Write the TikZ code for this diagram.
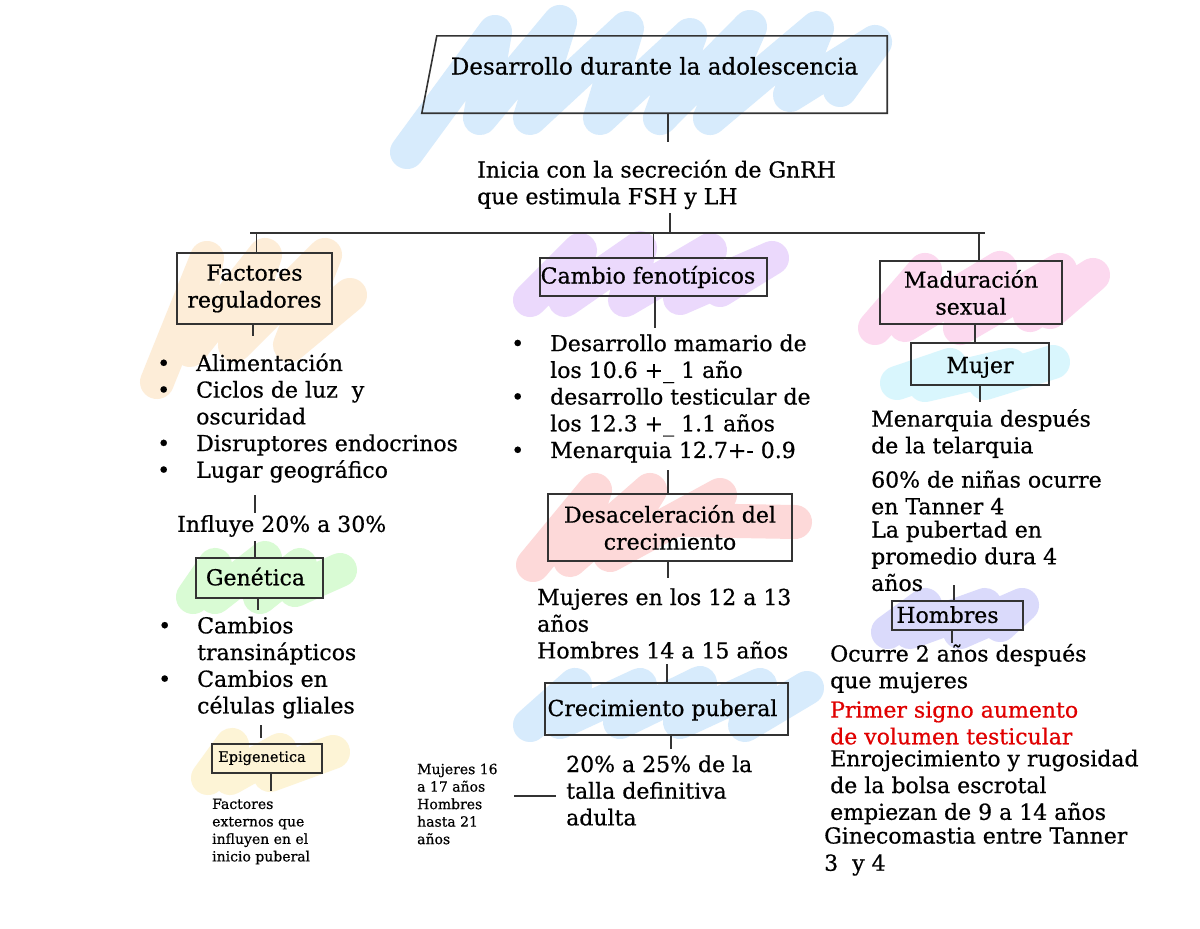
\documentclass[tikz,border=0pt]{standalone}
\usepackage{fontspec}
\setmainfont[FakeBold=0.6]{DejaVu Serif}
\usetikzlibrary{positioning}

\definecolor{azulG}{HTML}{D7EBFC}
\definecolor{naranjaG}{HTML}{FDEDD8}
\definecolor{moradoG}{HTML}{EBD9FC}
\definecolor{rosaG}{HTML}{FCD9EF}
\definecolor{cianG}{HTML}{D9F6FD}
\definecolor{rojoG}{HTML}{FDD9D9}
\definecolor{verdeG}{HTML}{D9FBD4}
\definecolor{amarilloG}{HTML}{FDF4D6}
\definecolor{lilaG}{HTML}{DADAFB}
\definecolor{rojoT}{HTML}{E00000}

\newcommand{\vineta}{\llap{\textbullet\hspace{26pt}}}

\tikzset{
  garabato/.style={line width=34pt, line cap=round, line join=round},
  caja/.style={draw=black!80, line width=1.6pt, align=center, inner sep=0pt, font=\fontsize{22}{27}\selectfont},
  texto/.style={anchor=west, align=left, inner sep=0pt, font=\fontsize{22}{26.7}\selectfont},
  chico/.style={anchor=west, align=left, inner sep=0pt, font=\fontsize{14}{17.5}\selectfont},
  linea/.style={draw=black!80, line width=1.6pt}
}

\begin{document}
\begin{tikzpicture}[x=1pt, y=-1pt]
  \useasboundingbox[fill=white] (0,0) rectangle (1200,929);

  % garabatos de fondo
  \draw[garabato, azulG] (407,152) -- (495,32) -- (480,118) -- (560,22) -- (530,118) -- (627,28) -- (600,118) -- (690,35) -- (660,118) -- (750,27) -- (710,118) -- (817,28) -- (790,95) -- (875,42) -- (840,90);
  \draw[garabato, naranjaG] (157,382) -- (207,258) -- (190,350) -- (265,255) -- (235,345) -- (325,255) -- (290,345) -- (350,295);
  \draw[garabato, moradoG] (530,300) -- (580,250) -- (565,300) -- (640,248) -- (625,300) -- (710,250) -- (680,298) -- (772,258) -- (720,290);
  \draw[garabato, rosaG] (875,328) -- (925,270) -- (905,325) -- (1000,268) -- (960,328) -- (1060,270) -- (1030,315) -- (1093,275) -- (1050,312);
  \draw[garabato, cianG] (897,383) -- (950,365) -- (925,385) -- (1010,365) -- (985,383) -- (1053,362);
  \draw[garabato, rojoG] (533,565) -- (595,490) -- (570,560) -- (650,490) -- (610,555) -- (720,495) -- (680,520) -- (795,522);
  \draw[garabato, verdeG] (193,597) -- (215,565) -- (215,597) -- (265,558) -- (260,597) -- (300,565) -- (295,590) -- (340,570);
  \draw[garabato, azulG] (530,725) -- (575,685) -- (560,722) -- (640,685) -- (620,722) -- (700,683) -- (680,722) -- (760,685) -- (745,725) -- (807,688);
  \draw[garabato, amarilloG] (208,778) -- (232,745) -- (230,778) -- (280,750) -- (270,775) -- (333,752);
  \draw[garabato, lilaG] (888,632) -- (925,605) -- (910,632) -- (985,605) -- (960,632) -- (1022,605) -- (1000,625);

  % cajas
  \node (titulo) [minimum width=465pt, minimum height=77pt, inner sep=0pt, font=\fontsize{23}{27}\selectfont] at (654.5,74.5) {\smash{Desarrollo durante la adolescencia}};
  \draw[linea] ([xshift=15pt]titulo.north west) -- (titulo.north east) -- (titulo.south east) -- (titulo.south west) -- cycle;
  \node (cambio) [caja, node distance=202.5pt, below of=titulo, xshift=-1pt, minimum width=227pt, minimum height=38pt] {Cambio fenotípicos\hspace{11pt}};
  \node (factores) [caja, node distance=399pt, left of=cambio, yshift=-11.5pt, minimum width=155pt, minimum height=71pt] {\raisebox{1pt}{Factores}\\\raisebox{1pt}{reguladores}};
  \node (maduracion) [caja, node distance=317.5pt, right of=cambio, yshift=-15.5pt, minimum width=182pt, minimum height=63pt] {Maduración\\sexual};
  \node (mujer) [caja, node distance=71.5pt, below of=maduracion, xshift=9pt, minimum width=138pt, minimum height=42pt] {\smash{\raisebox{-9pt}{Mujer}}};
  \node (desaceleracion) [caja, node distance=250.5pt, below of=cambio, xshift=16.5pt, minimum width=244pt, minimum height=67pt] {Desaceleración del\\crecimiento};
  \node (crecimiento) [caja, node distance=181.5pt, below of=desaceleracion, xshift=-3.5pt, minimum width=243pt, minimum height=52pt] {\smash{\raisebox{-7pt}{Crecimiento puberal}}\hspace{8pt}};
  \node (genetica) [caja, node distance=289.5pt, below of=factores, xshift=5pt, minimum width=127pt, minimum height=40pt] {\raisebox{3pt}{Genética}\hspace{8pt}};
  \node (epigenetica) [caja, node distance=180.5pt, below of=genetica, xshift=7.5pt, minimum width=110pt, minimum height=29pt, font=\fontsize{14.5}{16}\selectfont] {\raisebox{4pt}{Epigenetica}\hspace{10pt}};
  \node (hombres) [caja, node distance=251.5pt, below of=mujer, xshift=-22.5pt, minimum width=131pt, minimum height=29pt] {\raisebox{2pt}{Hombres}\hspace{20pt}};

  % textos
  \node (inicio) [texto] at (477,184.5) {Inicia con la secreción de GnRH\\que estimula FSH y LH};
  \node (listaFactores) [texto] at (196,418) {\vineta Alimentación\\\vineta Ciclos de luz\ \ y\\oscuridad\\\vineta Disruptores endocrinos\\\vineta Lugar geográfico};
  \node (influye) [texto] at (177,526) {Influye 20\% a 30\%};
  \node (listaGenetica) [texto] at (197,667.5) {\vineta Cambios\\transinápticos\\\vineta Cambios en\\células gliales};
  \node (externos) [chico] at (212,831.5) {Factores\\externos que\\influyen en el\\inicio puberal};
  \node (tallaChico) [chico] at (417,804) {Mujeres 16\\a 17 años\\Hombres\\hasta 21\\años};
  \node (listaCambio) [texto] at (550,398.5) {\vineta Desarrollo mamario de\\los 10.6 +\_ 1 año\\\vineta desarrollo testicular de\\los 12.3 +\_ 1.1 años\\\vineta Menarquia 12.7+- 0.9};
  \node (edades) [texto] at (537,623.5) {Mujeres en los 12 a 13\\años\\Hombres 14 a 15 años};
  \node (talla) [texto] at (566,790.5) {20\% a 25\% de la\\talla definitiva\\adulta};
  \node (menarquia) [texto] at (871,433.5) {Menarquia después\\de la telarquia};
  \node (tanner) [texto] at (871,492.5) {60\% de niñas ocurre\\en Tanner 4};
  \node (pubertad) [texto] at (871,556) {La pubertad en\\promedio dura 4\\años};
  \node (ocurre) [texto] at (830,668.5) {Ocurre 2 años después\\que mujeres};
  \node (signo) [texto, text=rojoT] at (830,723) {Primer signo aumento\\de volumen testicular};
  \node (bolsa) [texto] at (830,787) {Enrojecimiento y rugosidad\\de la bolsa escrotal\\empiezan de 9 a 14 años};
  \node (gineco) [texto] at (824,835.5) {Ginecomastia entre Tanner};
  \node (gineco2) [texto] at (824,865) {3\ \ y 4};

  % puntos sueltos de los conectores
  \coordinate (finTitulo) at (668,142);
  \coordinate (finInicio) at (670,213);
  \coordinate (troncoIzq) at (250,233);
  \coordinate (troncoDer) at (985,233);
  \coordinate (finFactores) at (253,336);
  \coordinate (finCambio) at (655,328);
  \coordinate (finMaduracion) at (975,343);
  \coordinate (finMujer) at (980,402);
  \coordinate (influyeA) at (255,495);
  \coordinate (influyeB) at (255,513);
  \coordinate (sobreGenetica) at (255,541);
  \coordinate (finGenetica) at (258,610);
  \coordinate (sobreEpiA) at (261,725);
  \coordinate (sobreEpiB) at (261,738);
  \coordinate (finEpi) at (271,791);
  \coordinate (sobreDesa) at (668,470);
  \coordinate (finDesa) at (668,578);
  \coordinate (sobreCrec) at (667,664);
  \coordinate (finCrec) at (671,749);
  \coordinate (sobreHombres) at (954,585);
  \coordinate (finHombres) at (952,643);
  \coordinate (tallaA) at (514,796);
  \coordinate (tallaB) at (556,796);

  % conectores
  \draw[linea] (titulo.south -| finTitulo) -- (finTitulo);
  \draw[linea] (finInicio) -- (finInicio |- troncoIzq);
  \draw[linea] (troncoIzq) -- (troncoDer);
  \draw[linea] ([xshift=2pt]factores.north |- troncoIzq) -- ([xshift=2pt]factores.north);
  \draw[linea] (cambio.north |- troncoIzq) -- (cambio.north);
  \draw[linea] ([xshift=8pt]maduracion.north |- troncoIzq) -- ([xshift=8pt]maduracion.north);
  \draw[linea] (factores.south -| finFactores) -- (finFactores);
  \draw[linea] (cambio.south -| finCambio) -- (finCambio);
  \draw[linea] (maduracion.south -| finMaduracion) -- (finMaduracion);
  \draw[linea] (mujer.south -| finMujer) -- (finMujer);
  \draw[linea] (influyeA) -- (influyeB);
  \draw[linea] (sobreGenetica) -- (genetica.north -| sobreGenetica);
  \draw[linea] (genetica.south -| finGenetica) -- (finGenetica);
  \draw[linea] (sobreEpiA) -- (sobreEpiB);
  \draw[linea] (epigenetica.south -| finEpi) -- (finEpi);
  \draw[linea] (sobreDesa) -- (desaceleracion.north -| sobreDesa);
  \draw[linea] (desaceleracion.south -| finDesa) -- (finDesa);
  \draw[linea] (sobreCrec) -- (crecimiento.north -| sobreCrec);
  \draw[linea] (crecimiento.south -| finCrec) -- (finCrec);
  \draw[linea] (sobreHombres) -- (hombres.north -| sobreHombres);
  \draw[linea] (hombres.south -| finHombres) -- (finHombres);
  \draw[linea] (tallaA) -- (tallaB);
\end{tikzpicture}
\end{document}
